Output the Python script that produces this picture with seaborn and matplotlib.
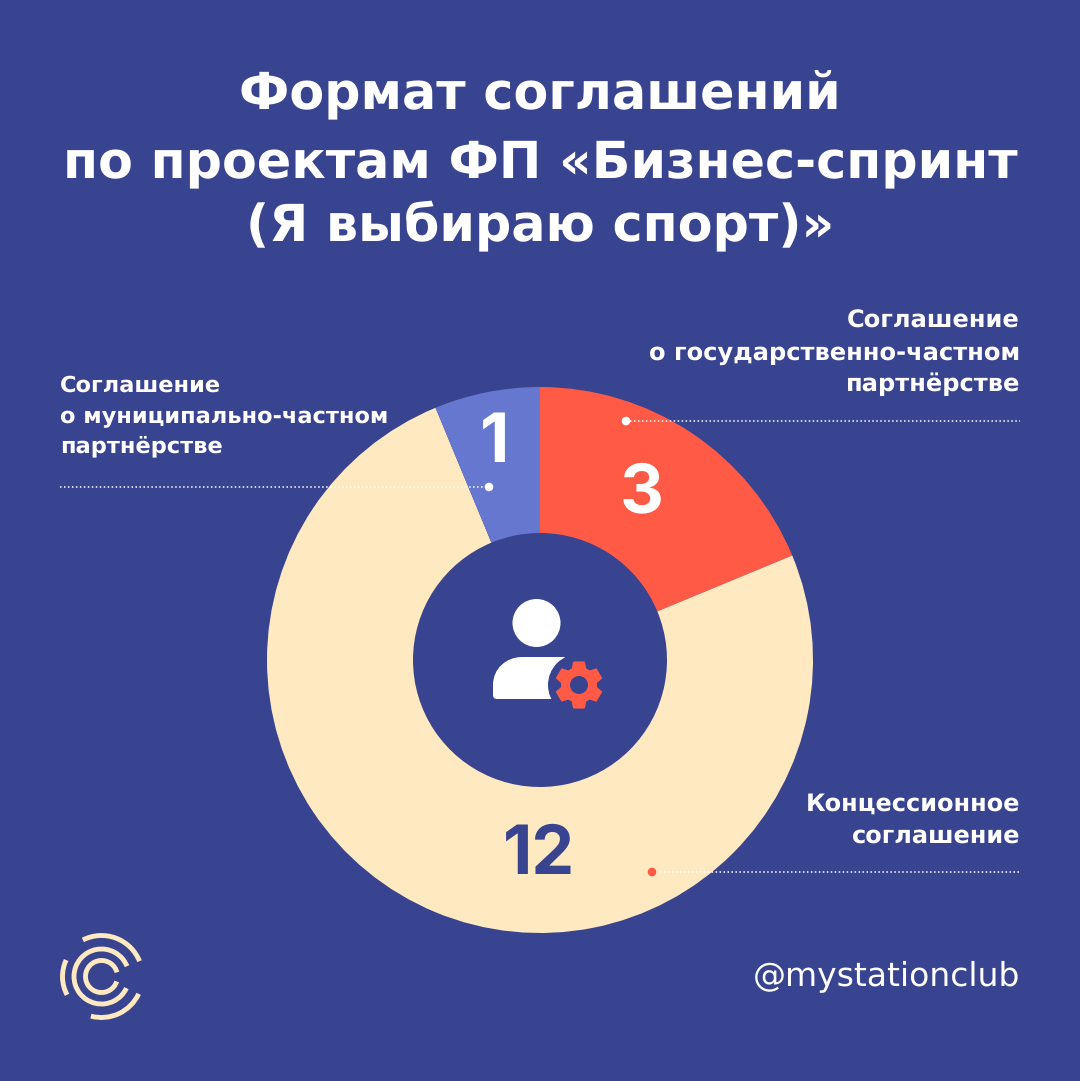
import numpy as np
import matplotlib
matplotlib.use("Agg")
import matplotlib.pyplot as plt
from matplotlib.patches import Arc, Circle, PathPatch, Polygon
from matplotlib.path import Path
import seaborn as sns

title_lines = ["Формат соглашений", "по проектам ФП «Бизнес-спринт", "(Я выбираю спорт)»"]
categories = ["Соглашение о государственно-частном партнёрстве", "Концессионное соглашение", "Соглашение о муниципально-частном партнёрстве"]
values = [3, 12, 1]
value_labels = ["3", "12", "1"]

navy = "#394491"
red = "#FF5A45"
cream = "#FFE9C0"
blue = "#6577CF"
colors = sns.color_palette([red, cream, blue])

sns.set_theme(style="white")
plt.rcParams["font.family"] = ["DejaVu Sans"]
plt.rcParams["text.hinting"] = "none"

W, H = 1080, 1081
fig = plt.figure(figsize=(W / 100, H / 100), dpi=100, facecolor=navy)

#Donut gets its own axes, centre (540, 660), radius 273
R = 273
pie_ax = fig.add_axes([(540 - R) / W, (H - 660 - R) / H, 2 * R / W, 2 * R / H])
wedges, _ = pie_ax.pie(values, colors=colors, startangle=90, counterclock=False, radius=1,
                       wedgeprops=dict(width=146 / R, linewidth=0))
pie_ax.set_xlim(-1, 1)
pie_ax.set_ylim(-1, 1)
pie_ax.patch.set_alpha(0)

#Overlay in picture pixels for lines, numbers, labels and icon
top = fig.add_axes([0, 0, 1, 1])
top.set_xlim(0, W)
top.set_ylim(H, 0)
top.axis("off")
top.patch.set_alpha(0)

for line, y in zip(title_lines, [108, 177, 241]):
    top.text(540, y, line, color="white", fontsize=36.5, fontweight="bold", ha="center", va="baseline")

#The labels on the right are set a little larger than the one on the left
label_kw = dict(color="white", fontweight="bold", va="baseline")
for line, y in zip(["Соглашение", "о государственно-частном", "партнёрстве"], [328, 360, 391]):
    top.text(1020, y, line, ha="right", fontsize=17.4, **label_kw)
for line, y in zip(["Соглашение", "о муниципально-частном", "партнёрстве"], [392, 423, 452]):
    top.text(60, y, line, ha="left", fontsize=16.2, **label_kw)
for line, y in zip(["Концессионное", "соглашение"], [811, 843]):
    top.text(1020, y, line, ha="right", fontsize=17.3, **label_kw)

#Dotted leaders with their end dots
leaders = [(626, 1020, 421, "white"), (60, 489, 487, "white"), (652, 1020, 872, red)]
for x0, x1, y, dot in leaders:
    top.plot([x0, x1], [y, y], color="white", lw=1.1, ls=(0, (1, 1.6)), zorder=3)
    top.add_patch(Circle((x0 if x0 > 500 else x1, y), 4.3, color=dot, lw=0, zorder=4))

#Numbers inside the slices
num_kw = dict(fontsize=49, fontweight="bold", ha="center", va="center", family=["Inter", "DejaVu Sans"])
top.text(642, 495, value_labels[0], color="white", **num_kw)
top.text(539, 856, value_labels[1], color=navy, **num_kw)
top.text(495, 444, value_labels[2], color="white", **num_kw)

#Person icon
top.add_patch(Circle((536.5, 623), 24, color="white", lw=0))
body = Path([(497, 699), (493, 699), (493, 695), (493, 685), (493, 668), (507, 657), (522, 657), (565, 657), (565, 699), (497, 699)],
            [Path.MOVETO, Path.CURVE3, Path.CURVE3, Path.LINETO, Path.CURVE4, Path.CURVE4, Path.CURVE4, Path.LINETO, Path.LINETO, Path.CLOSEPOLY])
top.add_patch(PathPatch(body, facecolor="white", lw=0))
top.add_patch(Circle((579, 685), 31, color=navy, lw=0))
top.add_patch(Circle((579, 685), 18, color=red, lw=0))
for a in np.arange(30, 390, 60):
    ca, sa = np.cos(np.radians(a)), np.sin(np.radians(a))
    pts = [(579 + r * ca - s * sa, 685 + r * sa + s * ca) for r, s in [(12, -7), (22.5, -5), (22.5, 5), (12, 7)]]
    top.add_patch(Polygon(pts, facecolor=red, edgecolor=red, lw=1.5, joinstyle="round"))
top.add_patch(Circle((579, 685), 9, color=navy, lw=0))

#Club logo made of arcs, angles read counter-clockwise on screen
cx, cy = 101.5, 976.5
logo_arcs = [(16, 15, 342), (27.5, 22, 335), (41, 22, 117), (41, 255, 335), (39, 155, 208)]
for r, t0, t1 in logo_arcs:
    top.add_patch(Arc((cx, cy), 2 * r, 2 * r, theta1=-t1, theta2=-t0, color=cream, lw=3.5))

top.text(1020, 985, "@mystationclub", color="white", fontsize=23.8, ha="right", va="baseline")

fig.savefig("out.png", dpi=100, facecolor=navy)
